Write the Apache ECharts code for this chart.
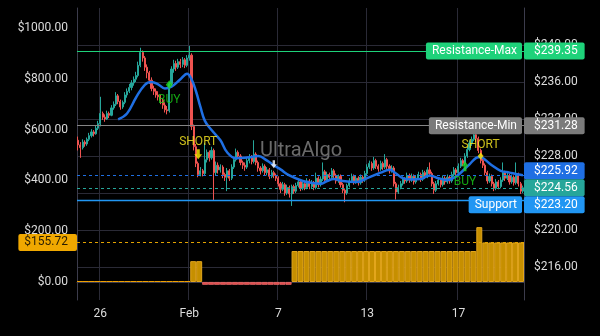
<!DOCTYPE html>
<html>
<head>
<meta charset="utf-8">
<script src="https://cdn.jsdelivr.net/npm/echarts@6/dist/echarts.min.js"></script>
<style>
  html, body { margin: 0; padding: 0; background: #000; }
  #chart { width: 600px; height: 336px; }
</style>
</head>
<body>
<div id="chart"></div>
<script>
// Price candles: [open, close, low, high]
const candles = [
  [229.7,229.2,228.6,230.1],[229.2,228.9,227.8,229.5],[228.9,229.5,228.7,229.8],[229.5,229.3,229.0,229.7],
  [229.3,229.8,229.1,230.0],[229.8,230.2,229.6,230.5],[230.2,230.6,230.0,230.9],[230.6,230.4,230.1,230.8],
  [230.4,231.0,230.3,231.3],[231.0,231.5,230.8,231.8],[231.5,232.6,231.2,234.4],[232.6,232.2,231.9,232.8],
  [232.2,232.0,231.7,232.5],[232.0,232.6,231.9,232.9],[232.6,232.4,232.1,232.8],[232.4,233.2,232.3,233.5],
  [233.2,233.6,233.0,233.9],[233.6,234.5,233.4,234.9],[234.5,233.9,233.6,234.7],[233.9,233.3,233.0,234.1],
  [233.3,233.8,233.1,234.0],[233.8,234.6,233.6,234.9],[234.6,235.0,234.3,235.3],[235.0,235.4,234.8,235.8],
  [235.4,235.9,235.1,236.2],[235.9,236.3,235.6,236.6],[236.3,236.7,236.0,237.1],[236.7,237.8,236.5,238.2],
  [237.8,239.2,237.6,239.7],[239.2,238.6,238.2,239.4],[238.6,237.6,237.2,238.8],[237.6,237.0,236.4,237.9],
  [237.0,236.2,235.8,237.2],[236.2,235.3,235.0,236.5],[235.3,235.0,234.6,235.6],[235.0,234.6,234.3,235.3],
  [234.6,234.4,234.0,235.0],[234.4,234.0,233.6,234.6],[234.0,233.5,233.1,234.2],[233.5,233.0,232.7,233.8],
  [233.0,232.9,232.5,233.4],[232.9,235.8,232.7,236.0],[235.8,237.4,235.5,237.7],[237.4,238.0,237.0,238.4],
  [238.0,237.6,237.2,238.3],[237.6,238.2,237.4,238.5],[238.2,237.9,237.5,238.5],[237.9,238.4,237.6,238.7],
  [238.4,237.8,237.5,238.6],[237.8,238.6,237.6,238.9],[238.6,238.9,238.3,239.9],[238.9,231.2,230.8,239.1],
  [231.2,229.0,228.6,231.4],[229.0,227.2,226.8,229.3],[227.2,226.0,225.7,227.4],[226.0,226.4,225.8,226.8],
  [226.4,226.1,225.8,226.6],[226.1,227.6,225.9,229.4],[227.6,228.4,227.3,228.7],[228.4,227.8,227.4,228.6],
  [227.8,228.6,227.6,229.0],[228.6,226.2,223.2,228.8],[226.2,227.0,225.9,227.4],[227.0,226.5,226.1,227.3],
  [226.5,226.8,226.2,227.1],[226.8,226.0,225.6,227.0],[226.0,225.7,225.3,226.2],[225.7,226.4,224.2,226.7],
  [226.4,225.6,225.3,226.6],[225.6,226.8,225.4,227.1],[226.8,227.6,226.6,227.9],[227.6,228.4,227.4,228.8],
  [228.4,228.0,227.7,228.6],[228.0,227.3,227.0,228.2],[227.3,227.0,226.6,227.5],[227.0,226.8,226.4,227.3],
  [226.8,227.5,226.6,227.8],[227.5,227.9,227.2,228.2],[227.9,227.4,227.1,228.1],[227.4,228.2,227.2,229.7],
  [228.2,227.3,227.0,228.4],[227.3,226.7,226.3,227.5],[226.7,226.4,226.0,226.9],[226.4,226.9,226.2,227.2],
  [226.9,226.2,225.9,227.1],[226.2,226.5,225.9,226.8],[226.5,225.8,225.5,226.7],[225.8,226.2,225.6,226.5],
  [226.2,225.9,225.6,226.4],[225.9,225.6,225.3,226.1],[225.6,225.0,224.7,225.8],[225.0,224.4,224.0,225.2],
  [224.4,224.9,224.2,225.2],[224.9,224.0,223.7,225.1],[224.0,224.6,223.8,224.9],[224.6,223.9,223.5,224.8],
  [223.9,224.7,222.6,224.9],[224.7,224.2,223.9,224.9],[224.2,224.8,224.0,225.1],[224.8,225.2,224.6,225.5],
  [225.2,224.5,224.2,225.4],[224.5,225.0,224.3,225.3],[225.0,224.6,224.3,225.2],[224.6,225.3,224.4,225.6],
  [225.3,224.7,224.4,225.5],[224.7,225.1,224.5,225.4],[225.1,224.6,224.3,225.3],[224.6,225.6,224.4,226.2],
  [225.6,224.9,224.6,225.8],[224.9,225.5,224.7,225.8],[225.5,226.3,225.3,227.3],[226.3,225.4,225.1,226.5],
  [225.4,226.0,225.2,226.3],[226.0,225.7,225.4,226.2],[225.7,226.4,225.5,226.7],[226.4,225.9,225.6,226.6],
  [225.9,225.3,225.0,226.1],[225.3,225.8,225.1,226.0],[225.8,224.9,224.6,226.0],[224.9,224.3,224.0,225.1],
  [224.3,224.0,223.0,224.5],[224.0,224.8,223.8,225.0],[224.8,225.3,224.6,225.6],[225.3,225.8,225.1,226.1],
  [225.8,225.2,224.9,226.0],[225.2,225.6,225.0,225.9],[225.6,225.1,224.8,225.8],[225.1,225.7,224.9,226.0],
  [225.7,225.4,225.1,225.9],[225.4,226.1,225.2,226.4],[226.1,226.8,225.9,227.1],[226.8,227.2,226.6,227.5],
  [227.2,226.7,226.4,227.4],[226.7,227.5,226.5,227.9],[227.5,226.9,226.6,227.7],[226.9,226.6,226.3,227.1],
  [226.6,227.2,226.4,227.5],[227.2,226.8,226.5,227.4],[226.8,227.6,226.6,228.2],[227.6,226.9,226.6,227.8],
  [226.9,226.4,226.1,227.1],[226.4,226.7,226.2,227.0],[226.7,225.0,224.7,226.9],[225.0,224.1,223.3,225.2],
  [224.1,224.6,223.9,224.9],[224.6,225.0,224.4,225.3],[225.0,225.5,224.8,225.8],[225.5,225.3,225.0,225.7],
  [225.3,225.9,225.1,226.2],[225.9,225.4,225.1,226.1],[225.4,225.8,225.2,226.1],[225.8,225.2,224.9,226.0],
  [225.2,225.6,225.0,225.9],[225.6,226.0,225.4,226.3],[226.0,225.5,225.2,226.2],[225.5,226.2,225.3,226.5],
  [226.2,225.8,225.5,226.4],[225.8,226.5,225.6,226.8],[226.5,226.1,225.8,227.3],[226.1,225.0,224.7,226.3],
  [225.0,224.3,223.9,225.2],[224.3,225.0,224.1,225.3],[225.0,225.4,224.8,225.7],[225.4,224.9,224.6,225.6],
  [224.9,225.6,224.7,225.9],[225.6,225.2,224.9,225.8],[225.2,225.7,225.0,226.0],[225.7,225.3,225.0,225.9],
  [225.3,226.0,225.1,226.3],[226.0,226.5,225.8,226.8],[226.5,226.2,225.9,226.7],[226.2,226.9,226.0,227.2],
  [226.9,227.5,226.7,227.8],[227.5,227.2,226.9,227.7],[227.2,228.0,227.0,228.3],[228.0,228.7,227.8,229.0],
  [228.7,229.4,228.5,229.7],[229.4,229.8,229.1,230.1],[229.8,230.3,229.6,230.6],[230.3,229.9,229.5,230.5],
  [229.9,228.6,228.3,230.1],[228.6,227.5,227.2,228.8],[227.5,227.0,226.7,227.8],[227.0,226.2,225.9,227.2],
  [226.2,225.3,225.0,226.4],[225.3,225.8,225.1,226.1],[225.8,225.0,224.7,226.0],[225.0,224.5,224.2,225.2],
  [224.5,225.2,224.3,225.5],[225.2,224.7,224.4,225.4],[224.7,225.4,224.5,225.7],[225.4,226.2,225.2,227.3],
  [226.2,225.6,225.3,226.4],[225.6,225.9,225.4,226.2],[225.9,225.2,224.9,226.1],[225.2,225.7,225.0,226.0],
  [225.7,225.1,224.8,225.9],[225.1,226.0,224.9,227.3],[226.0,225.0,224.7,226.2],[225.0,224.2,223.9,225.2],
  [224.2,224.56,224.0,224.8]
];

// Candle numbers on the time axis
const categories = candles.map((_, i) => String(i + 1));

// Date tick labels and the candle each one sits on
const tickIndex = [10, 50, 90, 130, 171];
const tickText = ['26', 'Feb', '7', '13', '17'];

// Axis tick values
const priceTicks = [216, 220, 224, 228, 232, 236, 240];
const positionTicks = [0, 200, 400, 600, 800, 1000];

// Smoothed trend line: [candle index, price]
const trendLine = [
  [18,231.96],[22,232.6],[26,234.3],[30,235.7],[33,236.0],[36,235.75],[39,235.3],[42,235.5],
  [46,236.3],[49,236.9],[51,236.3],[53,235.0],[55,233.3],[57,231.8],[60,230.8],[64,229.7],
  [67,228.4],[71,227.75],[75,227.8],[78,227.9],[81,228.0],[85,227.5],[88,227.0],[91,226.55],
  [95,225.9],[101,225.3],[105,225.1],[109,225.0],[112,225.3],[115,225.5],[119,225.3],[125,225.2],
  [130,225.6],[136,226.2],[140,226.5],[143,226.1],[146,225.6],[150,225.45],[154,225.5],[158,225.9],
  [162,225.6],[166,225.4],[170,225.8],[173,226.4],[176,227.1],[179,227.8],[181,227.9],[183,227.6],
  [186,227.0],[190,226.4],[194,226.2],[198,226.0],[200,225.92]
];

// Price levels drawn across the chart
const levelValues = [239.35, 231.28, 225.92, 224.56, 223.20];
const levelNames = ['Resistance-Max', 'Resistance-Min', '', '', 'Support'];

// Position value histogram (left scale)
const positionBars = [
  4,4,4,4,4,4,4,4,4,4,4,4,4,4,4,4,4,4,4,
  82,82,
  -11,-11,-11,-11,-11,-11,-11,-11,-11,-11,-11,-11,-11,-11,-11,
  122,122,122,122,122,122,122,122,122,122,122,122,122,122,122,122,
  122,122,122,122,122,122,122,122,122,122,122,122,122,122,122,
  216,
  155.72,155.72,155.72,155.72,155.72,155.72,155.72
];
const positionLevel = 155.72;
const barSlots = positionBars.map((_, i) => String(i + 1));

// Trade signals
const signalIndex = [41, 54, 88, 174, 181];
const signalPrice = [235.7, 228.2, 227.1, 226.9, 228.0];
const signalText = ['BUY', 'SHORT', '', 'BUY', 'SHORT'];

const UP = '#26a69a', DOWN = '#ef5350';
const GRID = '#2a2a36', BORDER = '#3c3c4c', TXT = '#dcdcdc';
const FONT = 'Roboto';

const levelStyle = [
  { color: '#1ed27a', type: 'solid', width: 1.2 },
  { color: '#858585', type: 'solid', width: 1.2 },
  { color: '#1f6fe3', type: [3, 3], width: 1 },
  { color: '#26a69a', type: [3, 3], width: 1 },
  { color: '#2196f3', type: 'solid', width: 1.4 }
];
const levelBox = ['#1ed27a', '#7b7b7b', '#1f6fe3', '#26a69a', '#2196f3'];

const arrowUp = 'path://M5 0 L10 5 L7 5 L7 10 L3 10 L3 5 L0 5 Z';
const arrowDown = 'path://M3 0 L7 0 L7 5 L10 5 L5 10 L0 5 L3 5 Z';
const signalLook = [
  { symbol: 'diamond', symbolSize: [7, 9], color: '#22dd22', pos: 'bottom', dist: 5, tc: '#19d019' },
  { symbol: arrowDown, symbolSize: [8, 10], color: '#ffee00', pos: 'top', dist: 1, tc: '#ffee22' },
  { symbol: arrowDown, symbolSize: [6, 8], color: '#ffffff', pos: 'top', dist: 1, tc: '#fff' },
  { symbol: arrowUp, symbolSize: [7, 10], color: '#22dd22', pos: 'bottom', dist: 5, tc: '#19d019' },
  { symbol: 'diamond', symbolSize: [6, 7], color: '#ffee00', pos: 'top', dist: 1, tc: '#ffee22' }
];

const chart = echarts.init(document.getElementById('chart'));

const option = {
  backgroundColor: '#000',
  animation: false,
  textStyle: { fontFamily: FONT },
  grid: { left: 77, right: 76, top: 8, bottom: 36 },
  xAxis: [
    {
      type: 'category',
      data: categories,
      boundaryGap: true,
      axisLine: { show: true, lineStyle: { color: BORDER } },
      axisTick: { show: false },
      axisLabel: {
        interval: (idx) => tickIndex.includes(idx),
        formatter: (v, idx) => tickText[tickIndex.indexOf(idx)],
        color: TXT, fontSize: 12, margin: 8, fontFamily: FONT
      },
      splitLine: {
        show: true,
        interval: (idx) => tickIndex.includes(idx),
        lineStyle: { color: GRID, width: 1 }
      }
    },
    {
      type: 'category',
      data: barSlots,
      boundaryGap: true,
      show: false
    }
  ],
  yAxis: [
    {
      type: 'value',
      position: 'left',
      min: -70.9,
      max: 1078.7,
      axisLine: { show: true, lineStyle: { color: BORDER } },
      axisTick: { show: false },
      splitLine: { show: false },
      axisLabel: {
        customValues: positionTicks,
        formatter: (v) => '$' + v.toFixed(2),
        color: TXT, fontSize: 12, margin: 9, fontFamily: FONT
      }
    },
    {
      type: 'value',
      position: 'right',
      min: 212.43,
      max: 244.0,
      axisLine: { show: true, lineStyle: { color: BORDER } },
      axisTick: { show: false, customValues: priceTicks },
      splitLine: { show: true, lineStyle: { color: GRID, width: 1 } },
      axisLabel: {
        customValues: priceTicks,
        formatter: (v) => '$' + v.toFixed(2),
        color: TXT, fontSize: 12, margin: 10, fontFamily: FONT
      }
    }
  ],
  series: [
    {
      type: 'bar',
      xAxisIndex: 1,
      yAxisIndex: 0,
      barCategoryGap: 0,
      barGap: 0,
      z: 1,
      data: positionBars.map((v) => {
        if (v < 0) return { value: v, itemStyle: { color: '#e24c4c', borderColor: '#ec6a6a', borderWidth: 0.8 } };
        if (v < 10) return { value: v, itemStyle: { color: '#f0a000', borderWidth: 0 } };
        return { value: v, itemStyle: { color: '#c68f00', borderColor: '#e3a61c', borderWidth: 1 } };
      }),
      markLine: {
        silent: true,
        symbol: 'none',
        animation: false,
        lineStyle: { color: '#e2a200', type: [3, 3], width: 1 },
        label: {
          position: 'start',
          distance: 0,
          formatter: '$' + positionLevel.toFixed(2),
          color: '#2a1e00',
          backgroundColor: '#f0a800',
          fontSize: 12,
          fontFamily: FONT,
          padding: [3, 9, 2, 6],
          borderRadius: 2
        },
        data: [{ yAxis: positionLevel }]
      }
    },
    {
      type: 'candlestick',
      xAxisIndex: 0,
      yAxisIndex: 1,
      data: candles,
      barWidth: '72%',
      z: 3,
      itemStyle: { color: UP, color0: DOWN, borderColor: UP, borderColor0: DOWN, borderWidth: 1 },
      markLine: {
        silent: true,
        symbol: 'none',
        animation: false,
        z: 10,
        label: { show: false },
        data: levelValues.map((v, i) => ({ yAxis: v, lineStyle: levelStyle[i] }))
      }
    },
    {
      type: 'line',
      xAxisIndex: 0,
      yAxisIndex: 1,
      data: trendLine,
      smooth: 0.4,
      showSymbol: false,
      z: 4,
      lineStyle: { color: '#1f6fe3', width: 2.5 }
    },
    {
      type: 'scatter',
      xAxisIndex: 0,
      yAxisIndex: 1,
      z: 6,
      data: signalIndex.map((idx, i) => {
        const s = signalLook[i];
        return {
          value: [idx, signalPrice[i]],
          symbol: s.symbol,
          symbolSize: s.symbolSize,
          itemStyle: { color: s.color },
          label: {
            show: signalText[i] !== '',
            formatter: signalText[i],
            position: s.pos,
            distance: s.dist,
            color: s.tc,
            fontSize: 12,
            fontFamily: FONT
          }
        };
      })
    }
  ]
};

chart.setOption(option);

// Price tags on the right scale; tags that would overlap are spread apart
const TAG_H = 17;
const tagPos = levelValues.map((v, i) => ({ i, y: chart.convertToPixel({ yAxisIndex: 1 }, v) }))
  .sort((a, b) => a.y - b.y);
let moved = true;
while (moved) {
  moved = false;
  let start = 0;
  for (let k = 1; k <= tagPos.length; k++) {
    const split = k === tagPos.length || tagPos[k].y - tagPos[k - 1].y >= TAG_H - 0.01;
    if (split) {
      const group = tagPos.slice(start, k);
      if (group.length > 1) {
        const mid = group.reduce((s, t) => s + t.y, 0) / group.length;
        group.forEach((t, j) => {
          const ny = mid + (j - (group.length - 1) / 2) * TAG_H;
          if (Math.abs(ny - t.y) > 0.01) { t.y = ny; moved = true; }
        });
      }
      start = k;
    }
  }
}

const elements = [];
tagPos.forEach(({ i, y }) => {
  elements.push({
    type: 'text', x: 524, y: y, z: 20, silent: true,
    style: {
      text: '$' + levelValues[i].toFixed(2),
      fill: '#fff', font: '12px ' + FONT,
      align: 'left', verticalAlign: 'middle',
      backgroundColor: levelBox[i], padding: [3, 7, 2, 10], borderRadius: 2
    }
  });
  if (levelNames[i]) {
    elements.push({
      type: 'text', x: 522, y: y, z: 20, silent: true,
      style: {
        text: levelNames[i],
        fill: '#fff', font: '12px ' + FONT,
        align: 'right', verticalAlign: 'middle',
        backgroundColor: levelBox[i], padding: [3, 5, 2, 6], borderRadius: 2
      }
    });
  }
});
elements.push({
  type: 'text', x: 301, y: 151, z: 0, silent: true,
  style: {
    text: 'UltraAlgo',
    fill: 'rgba(125,125,125,0.85)',
    font: '20px ' + FONT,
    align: 'center',
    verticalAlign: 'middle'
  }
});
chart.setOption({ graphic: elements });
</script>
</body>
</html>
